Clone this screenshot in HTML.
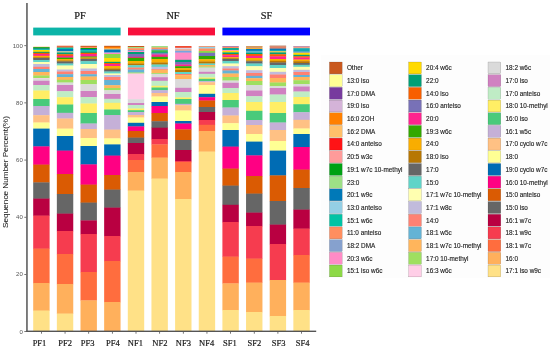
<!DOCTYPE html>
<html lang="en"><head><meta charset="utf-8"><title>Sequence Number Percent</title>
<style>html,body{margin:0;padding:0;background:#fff;}body{width:550px;height:350px;overflow:hidden;}svg{display:block;filter:blur(0.35px);}</style></head>
<body>
<svg width="550" height="350" viewBox="0 0 550 350">
<rect x="0" y="0" width="550" height="350" fill="#ffffff"/>
<g id="bars">
<g>
<rect x="33.20" y="46.80" width="16.4" height="0.70" fill="#FF8000"/>
<rect x="33.20" y="47.20" width="16.4" height="1.60" fill="#00A113"/>
<rect x="33.20" y="48.50" width="16.4" height="1.10" fill="#0079B8"/>
<rect x="33.20" y="49.30" width="16.4" height="1.00" fill="#00C3A5"/>
<rect x="33.20" y="50.00" width="16.4" height="2.10" fill="#FFDA00"/>
<rect x="33.20" y="51.80" width="16.4" height="1.30" fill="#009F76"/>
<rect x="33.20" y="52.80" width="16.4" height="1.50" fill="#F85F00"/>
<rect x="33.20" y="54.00" width="16.4" height="2.10" fill="#FF248E"/>
<rect x="33.20" y="55.80" width="16.4" height="1.70" fill="#F9AD00"/>
<rect x="33.20" y="57.20" width="16.4" height="1.10" fill="#B77703"/>
<rect x="33.20" y="58.00" width="16.4" height="2.30" fill="#666666"/>
<rect x="33.20" y="60.00" width="16.4" height="2.30" fill="#60D4C8"/>
<rect x="33.20" y="62.00" width="16.4" height="2.30" fill="#FFFFB0"/>
<rect x="33.20" y="64.00" width="16.4" height="3.10" fill="#C1BBDC"/>
<rect x="33.20" y="66.80" width="16.4" height="2.50" fill="#FF8172"/>
<rect x="33.20" y="69.00" width="16.4" height="3.30" fill="#64B3D5"/>
<rect x="33.20" y="72.00" width="16.4" height="3.80" fill="#FFB55C"/>
<rect x="33.20" y="75.50" width="16.4" height="2.80" fill="#9FDF60"/>
<rect x="33.20" y="78.00" width="16.4" height="0.90" fill="#FFCEE7"/>
<rect x="33.20" y="78.60" width="16.4" height="2.50" fill="#DADADA"/>
<rect x="33.20" y="80.80" width="16.4" height="4.50" fill="#D081C1"/>
<rect x="33.20" y="85.00" width="16.4" height="5.80" fill="#BFECC5"/>
<rect x="33.20" y="90.50" width="16.4" height="8.80" fill="#FFEE65"/>
<rect x="33.20" y="99.00" width="16.4" height="7.30" fill="#49CA7B"/>
<rect x="33.20" y="106.00" width="16.4" height="9.50" fill="#C5B0D7"/>
<rect x="33.20" y="115.20" width="16.4" height="7.60" fill="#FFC184"/>
<rect x="33.20" y="122.50" width="16.4" height="6.40" fill="#FFFF94"/>
<rect x="33.20" y="128.60" width="16.4" height="18.10" fill="#006CB4"/>
<rect x="33.20" y="146.40" width="16.4" height="18.50" fill="#FF0083"/>
<rect x="33.20" y="164.60" width="16.4" height="18.10" fill="#DA5B03"/>
<rect x="33.20" y="182.40" width="16.4" height="16.50" fill="#666666"/>
<rect x="33.20" y="198.60" width="16.4" height="17.30" fill="#B90041"/>
<rect x="33.20" y="215.60" width="16.4" height="33.30" fill="#F63C4F"/>
<rect x="33.20" y="248.60" width="16.4" height="34.70" fill="#FF6D3E"/>
<rect x="33.20" y="283.00" width="16.4" height="27.90" fill="#FFB05C"/>
<rect x="33.20" y="310.60" width="16.4" height="20.70" fill="#FFE187"/>
</g>
<g>
<rect x="56.85" y="45.70" width="16.4" height="2.20" fill="#E56A42"/>
<rect x="56.85" y="47.60" width="16.4" height="1.70" fill="#00C3A5"/>
<rect x="56.85" y="49.00" width="16.4" height="2.70" fill="#0079B8"/>
<rect x="56.85" y="51.40" width="16.4" height="1.30" fill="#F8D890"/>
<rect x="56.85" y="52.40" width="16.4" height="2.10" fill="#009F76"/>
<rect x="56.85" y="54.20" width="16.4" height="1.90" fill="#F85F00"/>
<rect x="56.85" y="55.80" width="16.4" height="2.10" fill="#FF248E"/>
<rect x="56.85" y="57.60" width="16.4" height="1.70" fill="#32A800"/>
<rect x="56.85" y="59.00" width="16.4" height="1.80" fill="#F9AD00"/>
<rect x="56.85" y="60.50" width="16.4" height="1.30" fill="#B77703"/>
<rect x="56.85" y="61.50" width="16.4" height="2.30" fill="#666666"/>
<rect x="56.85" y="63.50" width="16.4" height="2.30" fill="#60D4C8"/>
<rect x="56.85" y="65.50" width="16.4" height="4.30" fill="#FFFFB0"/>
<rect x="56.85" y="69.50" width="16.4" height="2.30" fill="#C1BBDC"/>
<rect x="56.85" y="71.50" width="16.4" height="3.00" fill="#FF8172"/>
<rect x="56.85" y="74.20" width="16.4" height="3.10" fill="#64B3D5"/>
<rect x="56.85" y="77.00" width="16.4" height="3.10" fill="#FFB55C"/>
<rect x="56.85" y="79.80" width="16.4" height="3.00" fill="#9FDF60"/>
<rect x="56.85" y="82.50" width="16.4" height="2.80" fill="#DADADA"/>
<rect x="56.85" y="85.00" width="16.4" height="6.50" fill="#D081C1"/>
<rect x="56.85" y="91.20" width="16.4" height="6.30" fill="#BFECC5"/>
<rect x="56.85" y="97.20" width="16.4" height="7.60" fill="#FFEE65"/>
<rect x="56.85" y="104.50" width="16.4" height="8.60" fill="#49CA7B"/>
<rect x="56.85" y="112.80" width="16.4" height="6.00" fill="#C5B0D7"/>
<rect x="56.85" y="118.50" width="16.4" height="10.40" fill="#FFC184"/>
<rect x="56.85" y="128.60" width="16.4" height="7.70" fill="#FFFF94"/>
<rect x="56.85" y="136.00" width="16.4" height="14.90" fill="#006CB4"/>
<rect x="56.85" y="150.60" width="16.4" height="23.70" fill="#FF0083"/>
<rect x="56.85" y="174.00" width="16.4" height="20.30" fill="#DA5B03"/>
<rect x="56.85" y="194.00" width="16.4" height="19.90" fill="#666666"/>
<rect x="56.85" y="213.60" width="16.4" height="17.70" fill="#B90041"/>
<rect x="56.85" y="231.00" width="16.4" height="23.30" fill="#F63C4F"/>
<rect x="56.85" y="254.00" width="16.4" height="30.30" fill="#FF6D3E"/>
<rect x="56.85" y="284.00" width="16.4" height="29.90" fill="#FFB05C"/>
<rect x="56.85" y="313.60" width="16.4" height="17.70" fill="#FFE187"/>
</g>
<g>
<rect x="80.50" y="45.80" width="16.4" height="1.30" fill="#C9591F"/>
<rect x="80.50" y="46.80" width="16.4" height="1.50" fill="#FF8E5F"/>
<rect x="80.50" y="48.00" width="16.4" height="1.30" fill="#00A113"/>
<rect x="80.50" y="49.00" width="16.4" height="1.50" fill="#0079B8"/>
<rect x="80.50" y="50.20" width="16.4" height="1.60" fill="#00C3A5"/>
<rect x="80.50" y="51.50" width="16.4" height="1.60" fill="#009F76"/>
<rect x="80.50" y="52.80" width="16.4" height="1.50" fill="#F85F00"/>
<rect x="80.50" y="54.00" width="16.4" height="2.80" fill="#FF248E"/>
<rect x="80.50" y="56.50" width="16.4" height="1.30" fill="#32A800"/>
<rect x="80.50" y="57.50" width="16.4" height="1.10" fill="#F9AD00"/>
<rect x="80.50" y="58.30" width="16.4" height="1.00" fill="#B77703"/>
<rect x="80.50" y="59.00" width="16.4" height="2.50" fill="#666666"/>
<rect x="80.50" y="61.20" width="16.4" height="3.10" fill="#60D4C8"/>
<rect x="80.50" y="64.00" width="16.4" height="4.80" fill="#FFFFB0"/>
<rect x="80.50" y="68.50" width="16.4" height="2.80" fill="#C1BBDC"/>
<rect x="80.50" y="71.00" width="16.4" height="3.50" fill="#FF8172"/>
<rect x="80.50" y="74.20" width="16.4" height="2.60" fill="#64B3D5"/>
<rect x="80.50" y="76.50" width="16.4" height="3.80" fill="#FFB55C"/>
<rect x="80.50" y="80.00" width="16.4" height="4.50" fill="#9FDF60"/>
<rect x="80.50" y="84.20" width="16.4" height="7.10" fill="#DADADA"/>
<rect x="80.50" y="91.00" width="16.4" height="6.30" fill="#D081C1"/>
<rect x="80.50" y="97.00" width="16.4" height="6.80" fill="#BFECC5"/>
<rect x="80.50" y="103.50" width="16.4" height="9.80" fill="#FFEE65"/>
<rect x="80.50" y="113.00" width="16.4" height="10.80" fill="#49CA7B"/>
<rect x="80.50" y="123.50" width="16.4" height="5.80" fill="#C5B0D7"/>
<rect x="80.50" y="129.00" width="16.4" height="9.30" fill="#FFC184"/>
<rect x="80.50" y="138.00" width="16.4" height="8.30" fill="#FFFF94"/>
<rect x="80.50" y="146.00" width="16.4" height="18.70" fill="#006CB4"/>
<rect x="80.50" y="164.40" width="16.4" height="20.50" fill="#FF0083"/>
<rect x="80.50" y="184.60" width="16.4" height="18.30" fill="#DA5B03"/>
<rect x="80.50" y="202.60" width="16.4" height="18.10" fill="#666666"/>
<rect x="80.50" y="220.40" width="16.4" height="13.90" fill="#B90041"/>
<rect x="80.50" y="234.00" width="16.4" height="38.30" fill="#F63C4F"/>
<rect x="80.50" y="272.00" width="16.4" height="28.70" fill="#FF6D3E"/>
<rect x="80.50" y="300.40" width="16.4" height="30.90" fill="#FFB05C"/>
</g>
<g>
<rect x="104.15" y="45.80" width="16.4" height="1.30" fill="#C9591F"/>
<rect x="104.15" y="46.80" width="16.4" height="2.00" fill="#FF8000"/>
<rect x="104.15" y="48.50" width="16.4" height="1.30" fill="#FFC06A"/>
<rect x="104.15" y="49.50" width="16.4" height="2.80" fill="#0079B8"/>
<rect x="104.15" y="52.00" width="16.4" height="1.30" fill="#86A1CE"/>
<rect x="104.15" y="53.00" width="16.4" height="1.30" fill="#FF8BC6"/>
<rect x="104.15" y="54.00" width="16.4" height="4.30" fill="#8DD946"/>
<rect x="104.15" y="58.00" width="16.4" height="4.10" fill="#FFDA00"/>
<rect x="104.15" y="61.80" width="16.4" height="1.50" fill="#009F76"/>
<rect x="104.15" y="63.00" width="16.4" height="1.30" fill="#F85F00"/>
<rect x="104.15" y="64.00" width="16.4" height="2.30" fill="#FF248E"/>
<rect x="104.15" y="66.00" width="16.4" height="2.80" fill="#F9AD00"/>
<rect x="104.15" y="68.50" width="16.4" height="1.60" fill="#B77703"/>
<rect x="104.15" y="69.80" width="16.4" height="2.00" fill="#666666"/>
<rect x="104.15" y="71.50" width="16.4" height="2.30" fill="#60D4C8"/>
<rect x="104.15" y="73.50" width="16.4" height="1.80" fill="#FFFFB0"/>
<rect x="104.15" y="75.00" width="16.4" height="2.30" fill="#C1BBDC"/>
<rect x="104.15" y="77.00" width="16.4" height="3.30" fill="#FF8172"/>
<rect x="104.15" y="80.00" width="16.4" height="5.50" fill="#64B3D5"/>
<rect x="104.15" y="85.20" width="16.4" height="3.10" fill="#FFB55C"/>
<rect x="104.15" y="88.00" width="16.4" height="2.50" fill="#9FDF60"/>
<rect x="104.15" y="90.20" width="16.4" height="4.10" fill="#DADADA"/>
<rect x="104.15" y="94.00" width="16.4" height="5.10" fill="#D081C1"/>
<rect x="104.15" y="98.80" width="16.4" height="4.30" fill="#BFECC5"/>
<rect x="104.15" y="102.80" width="16.4" height="7.00" fill="#FFEE65"/>
<rect x="104.15" y="109.50" width="16.4" height="5.80" fill="#49CA7B"/>
<rect x="104.15" y="115.00" width="16.4" height="14.90" fill="#C5B0D7"/>
<rect x="104.15" y="129.60" width="16.4" height="9.10" fill="#FFC184"/>
<rect x="104.15" y="138.40" width="16.4" height="6.30" fill="#FFFF94"/>
<rect x="104.15" y="144.40" width="16.4" height="11.50" fill="#006CB4"/>
<rect x="104.15" y="155.60" width="16.4" height="19.70" fill="#FF0083"/>
<rect x="104.15" y="175.00" width="16.4" height="14.90" fill="#DA5B03"/>
<rect x="104.15" y="189.60" width="16.4" height="18.30" fill="#666666"/>
<rect x="104.15" y="207.60" width="16.4" height="28.70" fill="#B90041"/>
<rect x="104.15" y="236.00" width="16.4" height="25.30" fill="#F63C4F"/>
<rect x="104.15" y="261.00" width="16.4" height="41.30" fill="#FF6D3E"/>
<rect x="104.15" y="302.00" width="16.4" height="29.30" fill="#FFB05C"/>
</g>
<g>
<rect x="127.80" y="46.00" width="16.4" height="1.30" fill="#C9591F"/>
<rect x="127.80" y="47.00" width="16.4" height="1.50" fill="#9DE086"/>
<rect x="127.80" y="48.20" width="16.4" height="2.10" fill="#FF8E5F"/>
<rect x="127.80" y="50.00" width="16.4" height="1.30" fill="#86A1CE"/>
<rect x="127.80" y="51.00" width="16.4" height="1.30" fill="#FF8BC6"/>
<rect x="127.80" y="52.00" width="16.4" height="2.30" fill="#009F76"/>
<rect x="127.80" y="54.00" width="16.4" height="3.10" fill="#7871B7"/>
<rect x="127.80" y="56.80" width="16.4" height="1.30" fill="#FF248E"/>
<rect x="127.80" y="57.80" width="16.4" height="3.50" fill="#32A800"/>
<rect x="127.80" y="61.00" width="16.4" height="2.80" fill="#F9AD00"/>
<rect x="127.80" y="63.50" width="16.4" height="2.00" fill="#B77703"/>
<rect x="127.80" y="65.20" width="16.4" height="2.60" fill="#60D4C8"/>
<rect x="127.80" y="67.50" width="16.4" height="2.30" fill="#FF8172"/>
<rect x="127.80" y="69.50" width="16.4" height="3.30" fill="#64B3D5"/>
<rect x="127.80" y="72.50" width="16.4" height="1.30" fill="#9FDF60"/>
<rect x="127.80" y="73.50" width="16.4" height="26.00" fill="#FFCEE7"/>
<rect x="127.80" y="99.20" width="16.4" height="4.10" fill="#DADADA"/>
<rect x="127.80" y="103.00" width="16.4" height="2.30" fill="#D081C1"/>
<rect x="127.80" y="105.00" width="16.4" height="3.80" fill="#BFECC5"/>
<rect x="127.80" y="108.50" width="16.4" height="2.00" fill="#FFEE65"/>
<rect x="127.80" y="110.20" width="16.4" height="2.10" fill="#49CA7B"/>
<rect x="127.80" y="112.00" width="16.4" height="3.30" fill="#C5B0D7"/>
<rect x="127.80" y="115.00" width="16.4" height="2.80" fill="#FFC184"/>
<rect x="127.80" y="117.50" width="16.4" height="5.60" fill="#FFFF94"/>
<rect x="127.80" y="122.80" width="16.4" height="3.90" fill="#006CB4"/>
<rect x="127.80" y="126.40" width="16.4" height="4.90" fill="#FF0083"/>
<rect x="127.80" y="131.00" width="16.4" height="6.90" fill="#DA5B03"/>
<rect x="127.80" y="137.60" width="16.4" height="5.70" fill="#666666"/>
<rect x="127.80" y="143.00" width="16.4" height="11.30" fill="#B90041"/>
<rect x="127.80" y="154.00" width="16.4" height="6.30" fill="#F63C4F"/>
<rect x="127.80" y="160.00" width="16.4" height="12.30" fill="#FF6D3E"/>
<rect x="127.80" y="172.00" width="16.4" height="18.90" fill="#FFB05C"/>
<rect x="127.80" y="190.60" width="16.4" height="140.70" fill="#FFE187"/>
</g>
<g>
<rect x="151.45" y="46.00" width="16.4" height="1.80" fill="#9DE086"/>
<rect x="151.45" y="47.50" width="16.4" height="1.80" fill="#FF8E5F"/>
<rect x="151.45" y="49.00" width="16.4" height="1.50" fill="#86A1CE"/>
<rect x="151.45" y="50.20" width="16.4" height="2.30" fill="#3CB84A"/>
<rect x="151.45" y="52.20" width="16.4" height="1.30" fill="#009F76"/>
<rect x="151.45" y="53.20" width="16.4" height="1.60" fill="#7871B7"/>
<rect x="151.45" y="54.50" width="16.4" height="2.60" fill="#FF248E"/>
<rect x="151.45" y="56.80" width="16.4" height="2.50" fill="#32A800"/>
<rect x="151.45" y="59.00" width="16.4" height="3.80" fill="#F9AD00"/>
<rect x="151.45" y="62.50" width="16.4" height="2.30" fill="#B77703"/>
<rect x="151.45" y="64.50" width="16.4" height="2.60" fill="#60D4C8"/>
<rect x="151.45" y="66.80" width="16.4" height="2.70" fill="#C1BBDC"/>
<rect x="151.45" y="69.20" width="16.4" height="0.90" fill="#FF8172"/>
<rect x="151.45" y="69.80" width="16.4" height="3.50" fill="#FFB55C"/>
<rect x="151.45" y="73.00" width="16.4" height="1.10" fill="#9FDF60"/>
<rect x="151.45" y="73.80" width="16.4" height="3.70" fill="#DADADA"/>
<rect x="151.45" y="77.20" width="16.4" height="3.90" fill="#D081C1"/>
<rect x="151.45" y="80.80" width="16.4" height="5.30" fill="#BFECC5"/>
<rect x="151.45" y="85.80" width="16.4" height="2.00" fill="#FFEE65"/>
<rect x="151.45" y="87.50" width="16.4" height="3.00" fill="#49CA7B"/>
<rect x="151.45" y="90.20" width="16.4" height="3.10" fill="#C5B0D7"/>
<rect x="151.45" y="93.00" width="16.4" height="3.80" fill="#FFC184"/>
<rect x="151.45" y="96.50" width="16.4" height="5.80" fill="#FFFF94"/>
<rect x="151.45" y="102.00" width="16.4" height="4.30" fill="#006CB4"/>
<rect x="151.45" y="106.00" width="16.4" height="7.30" fill="#FF0083"/>
<rect x="151.45" y="113.00" width="16.4" height="8.50" fill="#DA5B03"/>
<rect x="151.45" y="121.20" width="16.4" height="6.80" fill="#666666"/>
<rect x="151.45" y="127.70" width="16.4" height="11.60" fill="#B90041"/>
<rect x="151.45" y="139.00" width="16.4" height="5.70" fill="#F63C4F"/>
<rect x="151.45" y="144.40" width="16.4" height="13.50" fill="#FF6D3E"/>
<rect x="151.45" y="157.60" width="16.4" height="21.30" fill="#FFB05C"/>
<rect x="151.45" y="178.60" width="16.4" height="152.70" fill="#FFE187"/>
</g>
<g>
<rect x="175.10" y="46.00" width="16.4" height="2.10" fill="#F04A30"/>
<rect x="175.10" y="47.80" width="16.4" height="1.50" fill="#DCD4E4"/>
<rect x="175.10" y="49.00" width="16.4" height="2.10" fill="#EBB0A0"/>
<rect x="175.10" y="50.80" width="16.4" height="2.10" fill="#74A6E0"/>
<rect x="175.10" y="52.60" width="16.4" height="7.50" fill="#FF8BC6"/>
<rect x="175.10" y="59.80" width="16.4" height="2.50" fill="#009F76"/>
<rect x="175.10" y="62.00" width="16.4" height="2.80" fill="#7871B7"/>
<rect x="175.10" y="64.50" width="16.4" height="2.00" fill="#FF248E"/>
<rect x="175.10" y="66.20" width="16.4" height="2.30" fill="#32A800"/>
<rect x="175.10" y="68.20" width="16.4" height="2.10" fill="#F9AD00"/>
<rect x="175.10" y="70.00" width="16.4" height="2.30" fill="#B77703"/>
<rect x="175.10" y="72.00" width="16.4" height="2.30" fill="#60D4C8"/>
<rect x="175.10" y="74.00" width="16.4" height="1.50" fill="#FF8172"/>
<rect x="175.10" y="75.20" width="16.4" height="4.10" fill="#FFB55C"/>
<rect x="175.10" y="79.00" width="16.4" height="9.10" fill="#DADADA"/>
<rect x="175.10" y="87.80" width="16.4" height="4.50" fill="#D081C1"/>
<rect x="175.10" y="92.00" width="16.4" height="5.80" fill="#BFECC5"/>
<rect x="175.10" y="97.50" width="16.4" height="1.80" fill="#FFEE65"/>
<rect x="175.10" y="99.00" width="16.4" height="5.10" fill="#49CA7B"/>
<rect x="175.10" y="103.80" width="16.4" height="1.70" fill="#C5B0D7"/>
<rect x="175.10" y="105.20" width="16.4" height="5.60" fill="#FFC184"/>
<rect x="175.10" y="110.50" width="16.4" height="10.80" fill="#FFFF94"/>
<rect x="175.10" y="121.00" width="16.4" height="2.80" fill="#006CB4"/>
<rect x="175.10" y="123.50" width="16.4" height="6.20" fill="#FF0083"/>
<rect x="175.10" y="129.40" width="16.4" height="10.90" fill="#DA5B03"/>
<rect x="175.10" y="140.00" width="16.4" height="10.30" fill="#666666"/>
<rect x="175.10" y="150.00" width="16.4" height="11.30" fill="#B90041"/>
<rect x="175.10" y="161.00" width="16.4" height="1.30" fill="#F63C4F"/>
<rect x="175.10" y="162.00" width="16.4" height="10.30" fill="#FF6D3E"/>
<rect x="175.10" y="172.00" width="16.4" height="27.30" fill="#FFB05C"/>
<rect x="175.10" y="199.00" width="16.4" height="132.30" fill="#FFE187"/>
</g>
<g>
<rect x="198.75" y="46.00" width="16.4" height="1.10" fill="#FF8E5F"/>
<rect x="198.75" y="46.80" width="16.4" height="2.00" fill="#94CFE5"/>
<rect x="198.75" y="48.50" width="16.4" height="2.80" fill="#FF8E5F"/>
<rect x="198.75" y="51.00" width="16.4" height="2.10" fill="#8DD946"/>
<rect x="198.75" y="52.80" width="16.4" height="3.50" fill="#7871B7"/>
<rect x="198.75" y="56.00" width="16.4" height="3.50" fill="#32A800"/>
<rect x="198.75" y="59.20" width="16.4" height="2.60" fill="#F9AD00"/>
<rect x="198.75" y="61.50" width="16.4" height="2.30" fill="#B77703"/>
<rect x="198.75" y="63.50" width="16.4" height="1.80" fill="#60D4C8"/>
<rect x="198.75" y="65.00" width="16.4" height="1.80" fill="#FFB55C"/>
<rect x="198.75" y="66.50" width="16.4" height="1.30" fill="#9FDF60"/>
<rect x="198.75" y="67.50" width="16.4" height="4.60" fill="#DADADA"/>
<rect x="198.75" y="71.80" width="16.4" height="2.30" fill="#D081C1"/>
<rect x="198.75" y="73.80" width="16.4" height="4.00" fill="#BFECC5"/>
<rect x="198.75" y="77.50" width="16.4" height="1.60" fill="#FFEE65"/>
<rect x="198.75" y="78.80" width="16.4" height="2.70" fill="#49CA7B"/>
<rect x="198.75" y="81.20" width="16.4" height="1.30" fill="#C5B0D7"/>
<rect x="198.75" y="82.20" width="16.4" height="3.10" fill="#FFC184"/>
<rect x="198.75" y="85.00" width="16.4" height="9.10" fill="#FFFF94"/>
<rect x="198.75" y="93.80" width="16.4" height="3.70" fill="#006CB4"/>
<rect x="198.75" y="97.20" width="16.4" height="3.60" fill="#FF0083"/>
<rect x="198.75" y="100.50" width="16.4" height="6.80" fill="#DA5B03"/>
<rect x="198.75" y="107.00" width="16.4" height="5.30" fill="#666666"/>
<rect x="198.75" y="112.00" width="16.4" height="8.30" fill="#B90041"/>
<rect x="198.75" y="120.00" width="16.4" height="5.10" fill="#F63C4F"/>
<rect x="198.75" y="124.80" width="16.4" height="6.50" fill="#FF6D3E"/>
<rect x="198.75" y="131.00" width="16.4" height="20.90" fill="#FFB05C"/>
<rect x="198.75" y="151.60" width="16.4" height="179.70" fill="#FFE187"/>
</g>
<g>
<rect x="222.40" y="46.00" width="16.4" height="1.10" fill="#A080C0"/>
<rect x="222.40" y="46.80" width="16.4" height="1.50" fill="#FF8E5F"/>
<rect x="222.40" y="48.00" width="16.4" height="2.30" fill="#10A890"/>
<rect x="222.40" y="50.00" width="16.4" height="1.10" fill="#FF8BC6"/>
<rect x="222.40" y="50.80" width="16.4" height="1.90" fill="#FFDA00"/>
<rect x="222.40" y="52.40" width="16.4" height="1.90" fill="#009F76"/>
<rect x="222.40" y="54.00" width="16.4" height="1.50" fill="#F85F00"/>
<rect x="222.40" y="55.20" width="16.4" height="2.30" fill="#FF248E"/>
<rect x="222.40" y="57.20" width="16.4" height="1.30" fill="#F9AD00"/>
<rect x="222.40" y="58.20" width="16.4" height="1.10" fill="#B77703"/>
<rect x="222.40" y="59.00" width="16.4" height="2.30" fill="#666666"/>
<rect x="222.40" y="61.00" width="16.4" height="2.80" fill="#60D4C8"/>
<rect x="222.40" y="63.50" width="16.4" height="3.00" fill="#FFFFB0"/>
<rect x="222.40" y="66.20" width="16.4" height="2.60" fill="#C1BBDC"/>
<rect x="222.40" y="68.50" width="16.4" height="2.30" fill="#FF8172"/>
<rect x="222.40" y="70.50" width="16.4" height="3.30" fill="#64B3D5"/>
<rect x="222.40" y="73.50" width="16.4" height="3.80" fill="#FFB55C"/>
<rect x="222.40" y="77.00" width="16.4" height="3.80" fill="#9FDF60"/>
<rect x="222.40" y="80.50" width="16.4" height="2.60" fill="#DADADA"/>
<rect x="222.40" y="82.80" width="16.4" height="5.50" fill="#D081C1"/>
<rect x="222.40" y="88.00" width="16.4" height="5.30" fill="#BFECC5"/>
<rect x="222.40" y="93.00" width="16.4" height="7.30" fill="#FFEE65"/>
<rect x="222.40" y="100.00" width="16.4" height="7.80" fill="#49CA7B"/>
<rect x="222.40" y="107.50" width="16.4" height="8.30" fill="#C5B0D7"/>
<rect x="222.40" y="115.50" width="16.4" height="8.00" fill="#FFC184"/>
<rect x="222.40" y="123.20" width="16.4" height="7.10" fill="#FFFF94"/>
<rect x="222.40" y="130.00" width="16.4" height="16.90" fill="#006CB4"/>
<rect x="222.40" y="146.60" width="16.4" height="22.30" fill="#FF0083"/>
<rect x="222.40" y="168.60" width="16.4" height="17.30" fill="#DA5B03"/>
<rect x="222.40" y="185.60" width="16.4" height="19.50" fill="#666666"/>
<rect x="222.40" y="204.80" width="16.4" height="17.50" fill="#B90041"/>
<rect x="222.40" y="222.00" width="16.4" height="34.90" fill="#F63C4F"/>
<rect x="222.40" y="256.60" width="16.4" height="27.10" fill="#FF6D3E"/>
<rect x="222.40" y="283.40" width="16.4" height="26.90" fill="#FFB05C"/>
<rect x="222.40" y="310.00" width="16.4" height="21.30" fill="#FFE187"/>
</g>
<g>
<rect x="246.05" y="46.00" width="16.4" height="0.90" fill="#C89040"/>
<rect x="246.05" y="46.60" width="16.4" height="2.10" fill="#D89870"/>
<rect x="246.05" y="48.40" width="16.4" height="0.90" fill="#F9AD00"/>
<rect x="246.05" y="49.00" width="16.4" height="2.10" fill="#0079B8"/>
<rect x="246.05" y="50.80" width="16.4" height="2.30" fill="#5CB8C8"/>
<rect x="246.05" y="52.80" width="16.4" height="1.50" fill="#009F76"/>
<rect x="246.05" y="54.00" width="16.4" height="2.10" fill="#F85F00"/>
<rect x="246.05" y="55.80" width="16.4" height="2.50" fill="#FF248E"/>
<rect x="246.05" y="58.00" width="16.4" height="2.80" fill="#F9AD00"/>
<rect x="246.05" y="60.50" width="16.4" height="1.10" fill="#B77703"/>
<rect x="246.05" y="61.30" width="16.4" height="2.50" fill="#666666"/>
<rect x="246.05" y="63.50" width="16.4" height="3.00" fill="#60D4C8"/>
<rect x="246.05" y="66.20" width="16.4" height="4.30" fill="#FFFFB0"/>
<rect x="246.05" y="70.20" width="16.4" height="3.10" fill="#C1BBDC"/>
<rect x="246.05" y="73.00" width="16.4" height="3.10" fill="#FF8172"/>
<rect x="246.05" y="75.80" width="16.4" height="2.70" fill="#64B3D5"/>
<rect x="246.05" y="78.20" width="16.4" height="3.10" fill="#FFB55C"/>
<rect x="246.05" y="81.00" width="16.4" height="4.30" fill="#9FDF60"/>
<rect x="246.05" y="85.00" width="16.4" height="5.80" fill="#DADADA"/>
<rect x="246.05" y="90.50" width="16.4" height="6.00" fill="#D081C1"/>
<rect x="246.05" y="96.20" width="16.4" height="6.10" fill="#BFECC5"/>
<rect x="246.05" y="102.00" width="16.4" height="9.10" fill="#FFEE65"/>
<rect x="246.05" y="110.80" width="16.4" height="9.50" fill="#49CA7B"/>
<rect x="246.05" y="120.00" width="16.4" height="5.30" fill="#C5B0D7"/>
<rect x="246.05" y="125.00" width="16.4" height="9.30" fill="#FFC184"/>
<rect x="246.05" y="134.00" width="16.4" height="7.90" fill="#FFFF94"/>
<rect x="246.05" y="141.60" width="16.4" height="14.10" fill="#006CB4"/>
<rect x="246.05" y="155.40" width="16.4" height="20.90" fill="#FF0083"/>
<rect x="246.05" y="176.00" width="16.4" height="17.90" fill="#DA5B03"/>
<rect x="246.05" y="193.60" width="16.4" height="19.30" fill="#666666"/>
<rect x="246.05" y="212.60" width="16.4" height="13.70" fill="#B90041"/>
<rect x="246.05" y="226.00" width="16.4" height="32.90" fill="#F63C4F"/>
<rect x="246.05" y="258.60" width="16.4" height="24.30" fill="#FF6D3E"/>
<rect x="246.05" y="282.60" width="16.4" height="29.70" fill="#FFB05C"/>
<rect x="246.05" y="312.00" width="16.4" height="19.30" fill="#FFE187"/>
</g>
<g>
<rect x="269.70" y="45.60" width="16.4" height="1.10" fill="#B07050"/>
<rect x="269.70" y="46.40" width="16.4" height="2.50" fill="#E08068"/>
<rect x="269.70" y="48.60" width="16.4" height="1.70" fill="#0079B8"/>
<rect x="269.70" y="50.00" width="16.4" height="1.50" fill="#10A8B0"/>
<rect x="269.70" y="51.20" width="16.4" height="1.50" fill="#F0C840"/>
<rect x="269.70" y="52.40" width="16.4" height="2.10" fill="#009F76"/>
<rect x="269.70" y="54.20" width="16.4" height="2.50" fill="#F85F00"/>
<rect x="269.70" y="56.40" width="16.4" height="2.90" fill="#FF248E"/>
<rect x="269.70" y="59.00" width="16.4" height="2.10" fill="#F9AD00"/>
<rect x="269.70" y="60.80" width="16.4" height="2.00" fill="#B77703"/>
<rect x="269.70" y="62.50" width="16.4" height="2.80" fill="#666666"/>
<rect x="269.70" y="65.00" width="16.4" height="3.30" fill="#60D4C8"/>
<rect x="269.70" y="68.00" width="16.4" height="4.10" fill="#FFFFB0"/>
<rect x="269.70" y="71.80" width="16.4" height="3.00" fill="#C1BBDC"/>
<rect x="269.70" y="74.50" width="16.4" height="3.80" fill="#FF8172"/>
<rect x="269.70" y="78.00" width="16.4" height="4.80" fill="#FFB55C"/>
<rect x="269.70" y="82.50" width="16.4" height="4.00" fill="#9FDF60"/>
<rect x="269.70" y="86.20" width="16.4" height="2.10" fill="#DADADA"/>
<rect x="269.70" y="88.00" width="16.4" height="6.80" fill="#D081C1"/>
<rect x="269.70" y="94.50" width="16.4" height="7.80" fill="#BFECC5"/>
<rect x="269.70" y="102.00" width="16.4" height="11.30" fill="#FFEE65"/>
<rect x="269.70" y="113.00" width="16.4" height="9.80" fill="#49CA7B"/>
<rect x="269.70" y="122.50" width="16.4" height="7.80" fill="#C5B0D7"/>
<rect x="269.70" y="130.00" width="16.4" height="11.30" fill="#FFC184"/>
<rect x="269.70" y="141.00" width="16.4" height="9.90" fill="#FFFF94"/>
<rect x="269.70" y="150.60" width="16.4" height="25.10" fill="#006CB4"/>
<rect x="269.70" y="175.40" width="16.4" height="25.90" fill="#DA5B03"/>
<rect x="269.70" y="201.00" width="16.4" height="23.90" fill="#666666"/>
<rect x="269.70" y="224.60" width="16.4" height="19.70" fill="#B90041"/>
<rect x="269.70" y="244.00" width="16.4" height="36.30" fill="#F63C4F"/>
<rect x="269.70" y="280.00" width="16.4" height="36.30" fill="#FFB05C"/>
<rect x="269.70" y="316.00" width="16.4" height="15.30" fill="#FFE187"/>
</g>
<g>
<rect x="293.35" y="46.00" width="16.4" height="0.90" fill="#A080C0"/>
<rect x="293.35" y="46.60" width="16.4" height="1.90" fill="#F0A088"/>
<rect x="293.35" y="48.20" width="16.4" height="3.70" fill="#10A8B0"/>
<rect x="293.35" y="51.60" width="16.4" height="1.50" fill="#86A1CE"/>
<rect x="293.35" y="52.80" width="16.4" height="2.30" fill="#FFDA00"/>
<rect x="293.35" y="54.80" width="16.4" height="1.70" fill="#009F76"/>
<rect x="293.35" y="56.20" width="16.4" height="1.60" fill="#F85F00"/>
<rect x="293.35" y="57.50" width="16.4" height="2.30" fill="#FF248E"/>
<rect x="293.35" y="59.50" width="16.4" height="2.00" fill="#F9AD00"/>
<rect x="293.35" y="61.20" width="16.4" height="2.10" fill="#B77703"/>
<rect x="293.35" y="63.00" width="16.4" height="2.10" fill="#666666"/>
<rect x="293.35" y="64.80" width="16.4" height="2.30" fill="#60D4C8"/>
<rect x="293.35" y="66.80" width="16.4" height="3.30" fill="#FFFFB0"/>
<rect x="293.35" y="69.80" width="16.4" height="2.50" fill="#C1BBDC"/>
<rect x="293.35" y="72.00" width="16.4" height="3.30" fill="#FF8172"/>
<rect x="293.35" y="75.00" width="16.4" height="2.30" fill="#64B3D5"/>
<rect x="293.35" y="77.00" width="16.4" height="3.50" fill="#FFB55C"/>
<rect x="293.35" y="80.20" width="16.4" height="4.10" fill="#9FDF60"/>
<rect x="293.35" y="84.00" width="16.4" height="2.80" fill="#DADADA"/>
<rect x="293.35" y="86.50" width="16.4" height="5.30" fill="#D081C1"/>
<rect x="293.35" y="91.50" width="16.4" height="5.80" fill="#BFECC5"/>
<rect x="293.35" y="97.00" width="16.4" height="7.50" fill="#FFEE65"/>
<rect x="293.35" y="104.20" width="16.4" height="8.30" fill="#49CA7B"/>
<rect x="293.35" y="112.20" width="16.4" height="7.90" fill="#C5B0D7"/>
<rect x="293.35" y="119.80" width="16.4" height="9.00" fill="#FFC184"/>
<rect x="293.35" y="128.50" width="16.4" height="5.80" fill="#FFFF94"/>
<rect x="293.35" y="134.00" width="16.4" height="13.30" fill="#006CB4"/>
<rect x="293.35" y="147.00" width="16.4" height="22.90" fill="#FF0083"/>
<rect x="293.35" y="169.60" width="16.4" height="18.70" fill="#DA5B03"/>
<rect x="293.35" y="188.00" width="16.4" height="21.90" fill="#666666"/>
<rect x="293.35" y="209.60" width="16.4" height="19.30" fill="#B90041"/>
<rect x="293.35" y="228.60" width="16.4" height="26.70" fill="#F63C4F"/>
<rect x="293.35" y="255.00" width="16.4" height="27.90" fill="#FF6D3E"/>
<rect x="293.35" y="282.60" width="16.4" height="27.70" fill="#FFB05C"/>
<rect x="293.35" y="310.00" width="16.4" height="21.30" fill="#FFE187"/>
</g>
</g>
<rect x="33.2" y="27.6" width="87.4" height="7.8" fill="#0CB4A8"/>
<rect x="128" y="27.6" width="87" height="7.8" fill="#F8103C"/>
<rect x="222.4" y="27.6" width="87.6" height="7.8" fill="#0000FF"/>
<text x="80" y="18.7" text-anchor="middle" font-family="'Liberation Serif', serif" font-size="10.3" fill="#1a1a1a" stroke="#1a1a1a" stroke-width="0.22">PF</text>
<text x="173" y="18.7" text-anchor="middle" font-family="'Liberation Serif', serif" font-size="10.3" fill="#1a1a1a" stroke="#1a1a1a" stroke-width="0.22">NF</text>
<text x="266.4" y="18.7" text-anchor="middle" font-family="'Liberation Serif', serif" font-size="10.3" fill="#1a1a1a" stroke="#1a1a1a" stroke-width="0.22">SF</text>
<rect x="26.2" y="3" width="1.5" height="329" fill="#555555"/>
<rect x="26.2" y="330.6" width="290" height="1.4" fill="#555555"/>
<rect x="24.3" y="331.20" width="2" height="0.8" fill="#555555"/>
<text x="22.8" y="333.60" text-anchor="end" font-family="'Liberation Sans', sans-serif" font-size="6.0" fill="#555">0</text>
<rect x="24.3" y="274.02" width="2" height="0.8" fill="#555555"/>
<text x="22.8" y="276.42" text-anchor="end" font-family="'Liberation Sans', sans-serif" font-size="6.0" fill="#555">20</text>
<rect x="24.3" y="216.84" width="2" height="0.8" fill="#555555"/>
<text x="22.8" y="219.24" text-anchor="end" font-family="'Liberation Sans', sans-serif" font-size="6.0" fill="#555">40</text>
<rect x="24.3" y="159.66" width="2" height="0.8" fill="#555555"/>
<text x="22.8" y="162.06" text-anchor="end" font-family="'Liberation Sans', sans-serif" font-size="6.0" fill="#555">60</text>
<rect x="24.3" y="102.48" width="2" height="0.8" fill="#555555"/>
<text x="22.8" y="104.88" text-anchor="end" font-family="'Liberation Sans', sans-serif" font-size="6.0" fill="#555">80</text>
<rect x="24.3" y="45.30" width="2" height="0.8" fill="#555555"/>
<text x="22.8" y="47.70" text-anchor="end" font-family="'Liberation Sans', sans-serif" font-size="6.0" fill="#555">100</text>
<rect x="41.00" y="332" width="0.8" height="1.7" fill="#555555"/>
<text x="39.5" y="346.1" text-anchor="middle" font-family="'Liberation Serif', serif" font-size="8.5" fill="#1a1a1a" stroke="#1a1a1a" stroke-width="0.2">PF1</text>
<rect x="64.65" y="332" width="0.8" height="1.7" fill="#555555"/>
<text x="65.2" y="346.1" text-anchor="middle" font-family="'Liberation Serif', serif" font-size="8.5" fill="#1a1a1a" stroke="#1a1a1a" stroke-width="0.2">PF2</text>
<rect x="88.30" y="332" width="0.8" height="1.7" fill="#555555"/>
<text x="87.7" y="346.1" text-anchor="middle" font-family="'Liberation Serif', serif" font-size="8.5" fill="#1a1a1a" stroke="#1a1a1a" stroke-width="0.2">PF3</text>
<rect x="111.95" y="332" width="0.8" height="1.7" fill="#555555"/>
<text x="112.8" y="346.1" text-anchor="middle" font-family="'Liberation Serif', serif" font-size="8.5" fill="#1a1a1a" stroke="#1a1a1a" stroke-width="0.2">PF4</text>
<rect x="135.60" y="332" width="0.8" height="1.7" fill="#555555"/>
<text x="135.4" y="346.1" text-anchor="middle" font-family="'Liberation Serif', serif" font-size="8.5" fill="#1a1a1a" stroke="#1a1a1a" stroke-width="0.2">NF1</text>
<rect x="159.25" y="332" width="0.8" height="1.7" fill="#555555"/>
<text x="159.9" y="346.1" text-anchor="middle" font-family="'Liberation Serif', serif" font-size="8.5" fill="#1a1a1a" stroke="#1a1a1a" stroke-width="0.2">NF2</text>
<rect x="182.90" y="332" width="0.8" height="1.7" fill="#555555"/>
<text x="183.4" y="346.1" text-anchor="middle" font-family="'Liberation Serif', serif" font-size="8.5" fill="#1a1a1a" stroke="#1a1a1a" stroke-width="0.2">NF3</text>
<rect x="206.55" y="332" width="0.8" height="1.7" fill="#555555"/>
<text x="206.6" y="346.1" text-anchor="middle" font-family="'Liberation Serif', serif" font-size="8.5" fill="#1a1a1a" stroke="#1a1a1a" stroke-width="0.2">NF4</text>
<rect x="230.20" y="332" width="0.8" height="1.7" fill="#555555"/>
<text x="229.8" y="346.1" text-anchor="middle" font-family="'Liberation Serif', serif" font-size="8.5" fill="#1a1a1a" stroke="#1a1a1a" stroke-width="0.2">SF1</text>
<rect x="253.85" y="332" width="0.8" height="1.7" fill="#555555"/>
<text x="254.3" y="346.1" text-anchor="middle" font-family="'Liberation Serif', serif" font-size="8.5" fill="#1a1a1a" stroke="#1a1a1a" stroke-width="0.2">SF2</text>
<rect x="277.50" y="332" width="0.8" height="1.7" fill="#555555"/>
<text x="278.7" y="346.1" text-anchor="middle" font-family="'Liberation Serif', serif" font-size="8.5" fill="#1a1a1a" stroke="#1a1a1a" stroke-width="0.2">SF3</text>
<rect x="301.15" y="332" width="0.8" height="1.7" fill="#555555"/>
<text x="302.7" y="346.1" text-anchor="middle" font-family="'Liberation Serif', serif" font-size="8.5" fill="#1a1a1a" stroke="#1a1a1a" stroke-width="0.2">SF4</text>
<text transform="translate(8.3,172) rotate(-90) scale(1.142,1)" text-anchor="middle" font-family="'Liberation Sans', sans-serif" font-size="7.2" fill="#222" stroke="#222" stroke-width="0.05">Sequence Number Percent(%)</text>
<rect x="321" y="55" width="229" height="223" fill="#fdfdfd"/>
<g id="legend" font-family="'Liberation Sans', sans-serif" font-size="6.4" fill="#222" stroke="#222" stroke-width="0.13">
<rect x="329.4" y="62.00" width="12.8" height="11.9" fill="#C9591F"/>
<text x="346.9" y="70.35">Other</text>
<rect x="329.4" y="74.69" width="12.8" height="11.9" fill="#FFFF94"/>
<text x="346.9" y="83.04">13:0 iso</text>
<rect x="329.4" y="87.38" width="12.8" height="11.9" fill="#773B9E"/>
<text x="346.9" y="95.73">17:0 DMA</text>
<rect x="329.4" y="100.07" width="12.8" height="11.9" fill="#D4B3D8"/>
<text x="346.9" y="108.42">19:0 iso</text>
<rect x="329.4" y="112.76" width="12.8" height="11.9" fill="#FF8000"/>
<text x="346.9" y="121.11">16:0 2OH</text>
<rect x="329.4" y="125.45" width="12.8" height="11.9" fill="#FFC06A"/>
<text x="346.9" y="133.80">16:2 DMA</text>
<rect x="329.4" y="138.14" width="12.8" height="11.9" fill="#FF1316"/>
<text x="346.9" y="146.49">14:0 anteiso</text>
<rect x="329.4" y="150.83" width="12.8" height="11.9" fill="#FF9B9A"/>
<text x="346.9" y="159.18">20:5 w3c</text>
<rect x="329.4" y="163.52" width="12.8" height="11.9" fill="#00A113"/>
<text x="346.9" y="171.87">19:1 w7c 10-methyl</text>
<rect x="329.4" y="176.21" width="12.8" height="11.9" fill="#9DE086"/>
<text x="346.9" y="184.56">23:0</text>
<rect x="329.4" y="188.90" width="12.8" height="11.9" fill="#0079B8"/>
<text x="346.9" y="197.25">20:1 w9c</text>
<rect x="329.4" y="201.59" width="12.8" height="11.9" fill="#94CFE5"/>
<text x="346.9" y="209.94">13:0 anteiso</text>
<rect x="329.4" y="214.28" width="12.8" height="11.9" fill="#00C3A5"/>
<text x="346.9" y="222.63">15:1 w6c</text>
<rect x="329.4" y="226.97" width="12.8" height="11.9" fill="#FF8E5F"/>
<text x="346.9" y="235.32">11:0 anteiso</text>
<rect x="329.4" y="239.66" width="12.8" height="11.9" fill="#86A1CE"/>
<text x="346.9" y="248.01">18:2 DMA</text>
<rect x="329.4" y="252.35" width="12.8" height="11.9" fill="#FF8BC6"/>
<text x="346.9" y="260.70">20:3 w6c</text>
<rect x="329.4" y="265.04" width="12.8" height="11.9" fill="#8DD946"/>
<text x="346.9" y="273.39">15:1 iso w6c</text>
<rect x="408.6" y="62.00" width="12.8" height="11.9" fill="#FFDA00"/>
<text x="426.1" y="70.35">20:4 w6c</text>
<rect x="408.6" y="74.69" width="12.8" height="11.9" fill="#009F76"/>
<text x="426.1" y="83.04">22:0</text>
<rect x="408.6" y="87.38" width="12.8" height="11.9" fill="#F85F00"/>
<text x="426.1" y="95.73">14:0 iso</text>
<rect x="408.6" y="100.07" width="12.8" height="11.9" fill="#7871B7"/>
<text x="426.1" y="108.42">16:0 anteiso</text>
<rect x="408.6" y="112.76" width="12.8" height="11.9" fill="#FF248E"/>
<text x="426.1" y="121.11">20:0</text>
<rect x="408.6" y="125.45" width="12.8" height="11.9" fill="#32A800"/>
<text x="426.1" y="133.80">19:3 w6c</text>
<rect x="408.6" y="138.14" width="12.8" height="11.9" fill="#F9AD00"/>
<text x="426.1" y="146.49">24:0</text>
<rect x="408.6" y="150.83" width="12.8" height="11.9" fill="#B77703"/>
<text x="426.1" y="159.18">18:0 iso</text>
<rect x="408.6" y="163.52" width="12.8" height="11.9" fill="#666666"/>
<text x="426.1" y="171.87">17:0</text>
<rect x="408.6" y="176.21" width="12.8" height="11.9" fill="#60D4C8"/>
<text x="426.1" y="184.56">15:0</text>
<rect x="408.6" y="188.90" width="12.8" height="11.9" fill="#FFFFB0"/>
<text x="426.1" y="197.25">17:1 w7c 10-methyl</text>
<rect x="408.6" y="201.59" width="12.8" height="11.9" fill="#C1BBDC"/>
<text x="426.1" y="209.94">17:1 w8c</text>
<rect x="408.6" y="214.28" width="12.8" height="11.9" fill="#FF8172"/>
<text x="426.1" y="222.63">14:0</text>
<rect x="408.6" y="226.97" width="12.8" height="11.9" fill="#64B3D5"/>
<text x="426.1" y="235.32">18:1 w5c</text>
<rect x="408.6" y="239.66" width="12.8" height="11.9" fill="#FFB55C"/>
<text x="426.1" y="248.01">18:1 w7c 10-methyl</text>
<rect x="408.6" y="252.35" width="12.8" height="11.9" fill="#9FDF60"/>
<text x="426.1" y="260.70">17:0 10-methyl</text>
<rect x="408.6" y="265.04" width="12.8" height="11.9" fill="#FFCEE7"/>
<text x="426.1" y="273.39">16:3 w6c</text>
<rect x="488.0" y="62.00" width="12.8" height="11.9" fill="#DADADA"/>
<text x="505.5" y="70.35">18:2 w6c</text>
<rect x="488.0" y="74.69" width="12.8" height="11.9" fill="#D081C1"/>
<text x="505.5" y="83.04">17:0 iso</text>
<rect x="488.0" y="87.38" width="12.8" height="11.9" fill="#BFECC5"/>
<text x="505.5" y="95.73">17:0 anteiso</text>
<rect x="488.0" y="100.07" width="12.8" height="11.9" fill="#FFEE65"/>
<text x="505.5" y="108.42">18:0 10-methyl</text>
<rect x="488.0" y="112.76" width="12.8" height="11.9" fill="#49CA7B"/>
<text x="505.5" y="121.11">16:0 iso</text>
<rect x="488.0" y="125.45" width="12.8" height="11.9" fill="#C5B0D7"/>
<text x="505.5" y="133.80">16:1 w5c</text>
<rect x="488.0" y="138.14" width="12.8" height="11.9" fill="#FFC184"/>
<text x="505.5" y="146.49">17:0 cyclo w7c</text>
<rect x="488.0" y="150.83" width="12.8" height="11.9" fill="#FFFF94"/>
<text x="505.5" y="159.18">18:0</text>
<rect x="488.0" y="163.52" width="12.8" height="11.9" fill="#006CB4"/>
<text x="505.5" y="171.87">19:0 cyclo w7c</text>
<rect x="488.0" y="176.21" width="12.8" height="11.9" fill="#FF0083"/>
<text x="505.5" y="184.56">16:0 10-methyl</text>
<rect x="488.0" y="188.90" width="12.8" height="11.9" fill="#DA5B03"/>
<text x="505.5" y="197.25">15:0 anteiso</text>
<rect x="488.0" y="201.59" width="12.8" height="11.9" fill="#666666"/>
<text x="505.5" y="209.94">15:0 iso</text>
<rect x="488.0" y="214.28" width="12.8" height="11.9" fill="#B90041"/>
<text x="505.5" y="222.63">16:1 w7c</text>
<rect x="488.0" y="226.97" width="12.8" height="11.9" fill="#F63C4F"/>
<text x="505.5" y="235.32">18:1 w9c</text>
<rect x="488.0" y="239.66" width="12.8" height="11.9" fill="#FF6D3E"/>
<text x="505.5" y="248.01">18:1 w7c</text>
<rect x="488.0" y="252.35" width="12.8" height="11.9" fill="#FFB05C"/>
<text x="505.5" y="260.70">16:0</text>
<rect x="488.0" y="265.04" width="12.8" height="11.9" fill="#FFE187"/>
<text x="505.5" y="273.39">17:1 iso w9c</text>
</g>
</svg>
</body></html>
